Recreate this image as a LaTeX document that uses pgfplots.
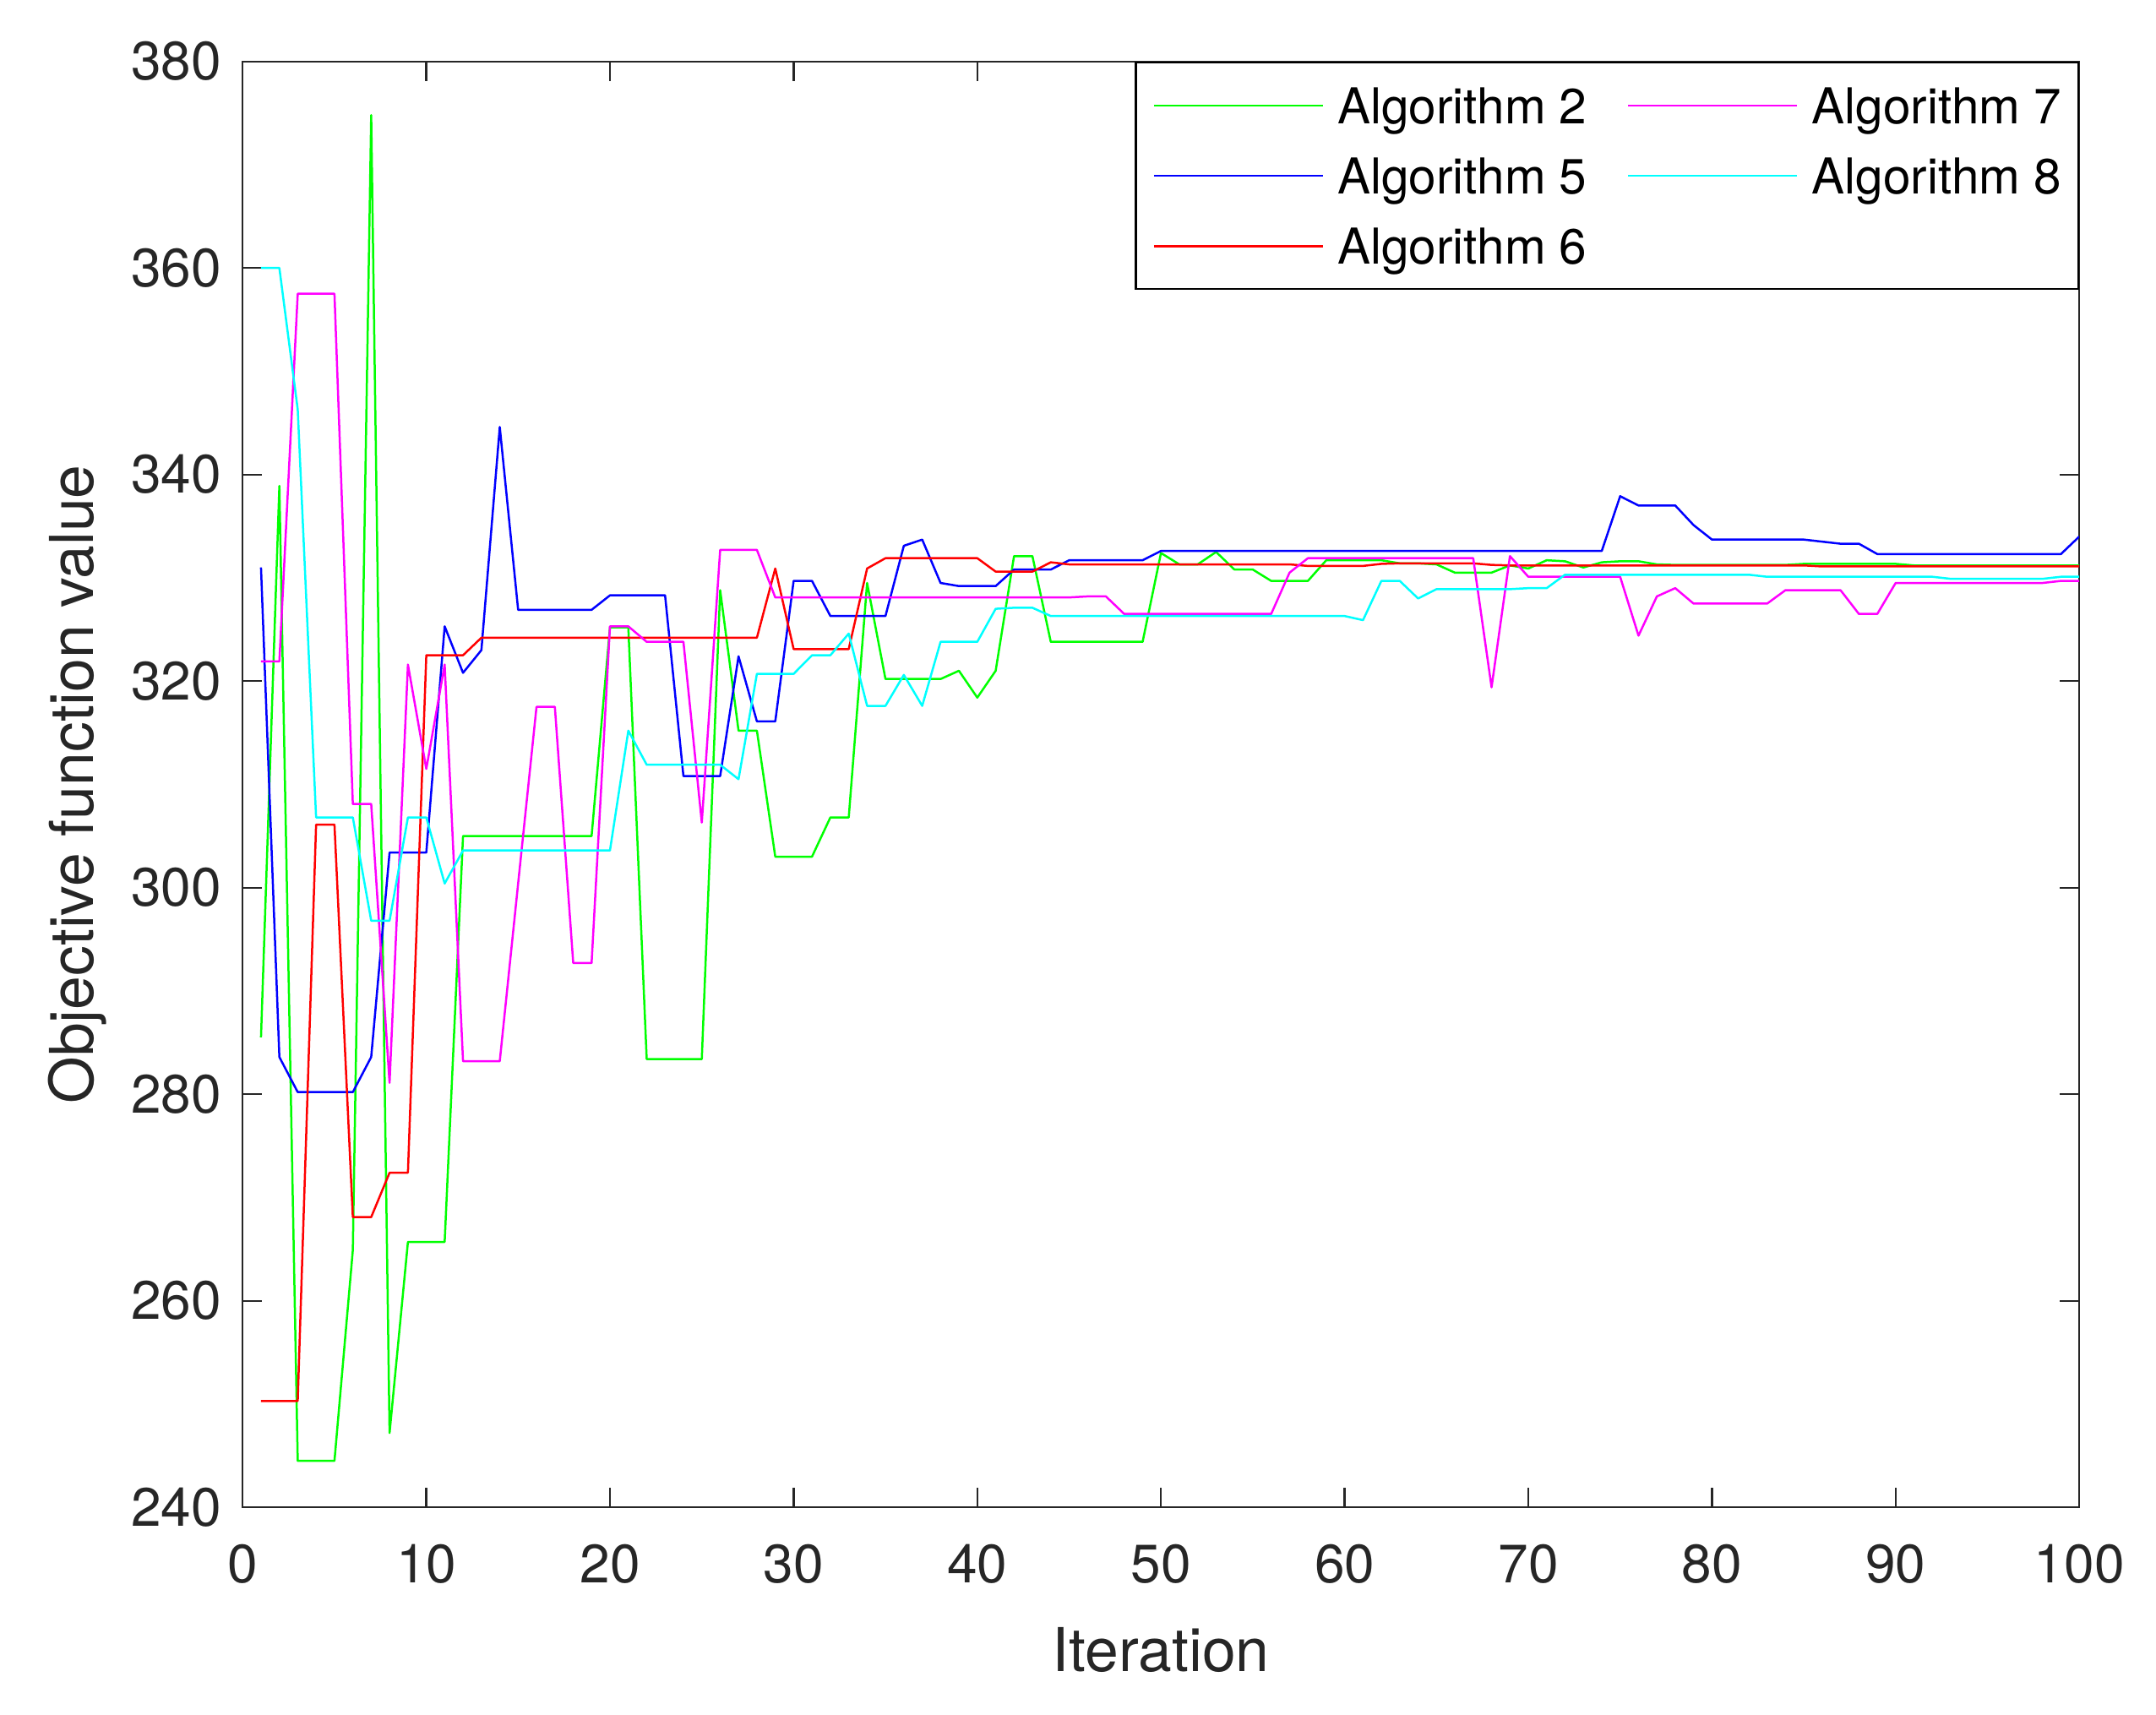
\documentclass[border=0pt]{standalone}
\usepackage{fontspec}
\setmainfont{TeX Gyre Heros}
\usepackage{pgfplots}
\pgfplotsset{compat=1.18}
\definecolor{axgray}{rgb}{0.15,0.15,0.15}
\definecolor{cG}{rgb}{0,1,0}
\definecolor{cB}{rgb}{0,0,1}
\definecolor{cR}{rgb}{1,0,0}
\definecolor{cM}{rgb}{1,0,1}
\definecolor{cC}{rgb}{0,1,1}
\begin{document}
\begin{tikzpicture}
\begin{axis}[
 name=ax,
 scale only axis,
 width=434.8pt, height=342.3pt,
 xmin=0, xmax=100, ymin=240, ymax=380,
 xtick={0,10,...,100}, ytick={240,260,...,380},
 tick align=inside,
 major tick length=4.6pt,
 axis line style={axgray, line width=0.45pt},
 every tick/.style={axgray, line width=0.45pt},
 tick label style={font=\fontsize{12.8}{15}\selectfont, color=axgray},
 /pgf/number format/assume math mode=true,
 /pgf/number format/set thousands separator={},
 xticklabel shift=5.2pt,
 yticklabel shift=1.5pt,
 every axis x label/.style={at={(axis description cs:0.5,-0.1134)},anchor=base,font=\fontsize{14.3}{17}\selectfont, color=axgray},
 every axis y label/.style={at={(axis description cs:-0.0814,0.5)},rotate=90,anchor=base,font=\fontsize{14.3}{17}\selectfont, color=axgray},
 xlabel={Iteration},
 ylabel={Objective function value},
 legend columns=2,
 legend cell align=left,
 legend style={at={(1,1)}, anchor=north east, draw=black, line width=0.45pt, fill=white,
   inner xsep=4pt, inner ysep=5.9pt, row sep=8.05pt,
   nodes={inner sep=0pt, text height=8.6pt, text depth=0pt, font=\fontsize{11.7}{14}\selectfont},
   /tikz/every odd column/.append style={column sep=3.2pt},
   /tikz/every even column/.append style={column sep=9.5pt}},
 legend image code/.code={\draw[#1] (0pt,0pt) -- (40pt,0pt);},
 every axis plot/.append style={line width=0.5pt, line join=round},
]
% Algorithm 2
\addplot[color=cG, forget plot] coordinates {
(1,285.5)(2,338.9)(3,244.5)(4,244.5)(5,244.5)(6,264.9)(7,374.8)(8,247.2)(9,265.7)(10,265.7)
(11,265.7)(12,305.0)(13,305.0)(14,305.0)(15,305.0)(16,305.0)(17,305.0)(18,305.0)(19,305.0)(20,325.2)
(21,325.2)(22,283.4)(23,283.4)(24,283.4)(25,283.4)(26,328.8)(27,315.2)(28,315.2)(29,303.0)(30,303.0)
(31,303.0)(32,306.8)(33,306.8)(34,329.5)(35,320.2)(36,320.2)(37,320.2)(38,320.2)(39,321.0)(40,318.4)
(41,321.0)(42,332.1)(43,332.1)(44,323.8)(45,323.8)(46,323.8)(47,323.8)(48,323.8)(49,323.8)(50,332.4)
(51,331.3)(52,331.3)(53,332.5)(54,330.8)(55,330.8)(56,329.7)(57,329.7)(58,329.7)(59,331.7)(60,331.7)
(61,331.7)(62,331.7)(63,331.4)(64,331.4)(65,331.3)(66,330.5)(67,330.5)(68,330.5)(69,331.2)(70,330.9)
(71,331.7)(72,331.6)(73,331.0)(74,331.5)(75,331.6)(76,331.6)(77,331.3)(78,331.25)(79,331.25)(80,331.25)
(81,331.25)(82,331.25)(83,331.25)(84,331.25)(85,331.35)(86,331.35)(87,331.35)(88,331.35)(89,331.35)(90,331.35)
(91,331.2)(92,331.2)(93,331.2)(94,331.2)(95,331.2)(96,331.2)(97,331.2)(98,331.2)(99,331.2)(100,331.2)
};
% Algorithm 5
\addplot[color=cB, forget plot] coordinates {
(1,331.0)(2,283.6)(3,280.2)(4,280.2)(5,280.2)(6,280.2)(7,283.6)(8,303.4)(9,303.4)(10,303.4)
(11,325.3)(12,320.8)(13,323.0)(14,344.6)(15,326.9)(16,326.9)(17,326.9)(18,326.9)(19,326.9)(20,328.3)
(21,328.3)(22,328.3)(23,328.3)(24,310.8)(25,310.8)(26,310.8)(27,322.4)(28,316.1)(29,316.1)(30,329.7)
(31,329.7)(32,326.3)(33,326.3)(34,326.3)(35,326.3)(36,333.1)(37,333.7)(38,329.5)(39,329.2)(40,329.2)
(41,329.2)(42,330.8)(43,330.8)(44,330.8)(45,331.7)(46,331.7)(47,331.7)(48,331.7)(49,331.7)(50,332.6)
(51,332.6)(52,332.6)(53,332.6)(54,332.6)(55,332.6)(56,332.6)(57,332.6)(58,332.6)(59,332.6)(60,332.6)
(61,332.6)(62,332.6)(63,332.6)(64,332.6)(65,332.6)(66,332.6)(67,332.6)(68,332.6)(69,332.6)(70,332.6)
(71,332.6)(72,332.6)(73,332.6)(74,332.6)(75,337.9)(76,337.0)(77,337.0)(78,337.0)(79,335.1)(80,333.7)
(81,333.7)(82,333.7)(83,333.7)(84,333.7)(85,333.7)(86,333.5)(87,333.3)(88,333.3)(89,332.3)(90,332.3)
(91,332.3)(92,332.3)(93,332.3)(94,332.3)(95,332.3)(96,332.3)(97,332.3)(98,332.3)(99,332.3)(100,334.0)
};
% Algorithm 6
\addplot[color=cR, forget plot] coordinates {
(1,250.3)(2,250.3)(3,250.3)(4,306.1)(5,306.1)(6,268.1)(7,268.1)(8,272.4)(9,272.4)(10,322.5)
(11,322.5)(12,322.5)(13,324.2)(14,324.2)(15,324.2)(16,324.2)(17,324.2)(18,324.2)(19,324.2)(20,324.2)
(21,324.2)(22,324.2)(23,324.2)(24,324.2)(25,324.2)(26,324.2)(27,324.2)(28,324.2)(29,330.9)(30,323.1)
(31,323.1)(32,323.1)(33,323.1)(34,330.9)(35,331.9)(36,331.9)(37,331.9)(38,331.9)(39,331.9)(40,331.9)
(41,330.6)(42,330.6)(43,330.6)(44,331.5)(45,331.3)(46,331.3)(47,331.3)(48,331.3)(49,331.3)(50,331.3)
(51,331.3)(52,331.3)(53,331.3)(54,331.3)(55,331.3)(56,331.3)(57,331.3)(58,331.15)(59,331.15)(60,331.15)
(61,331.15)(62,331.35)(63,331.4)(64,331.4)(65,331.4)(66,331.4)(67,331.4)(68,331.25)(69,331.2)(70,331.2)
(71,331.2)(72,331.2)(73,331.2)(74,331.2)(75,331.2)(76,331.2)(77,331.2)(78,331.2)(79,331.2)(80,331.2)
(81,331.2)(82,331.2)(83,331.2)(84,331.2)(85,331.2)(86,331.1)(87,331.1)(88,331.1)(89,331.1)(90,331.1)
(91,331.1)(92,331.1)(93,331.1)(94,331.1)(95,331.1)(96,331.1)(97,331.1)(98,331.1)(99,331.1)(100,331.1)
};
% Algorithm 7
\addplot[color=cM, forget plot] coordinates {
(1,321.9)(2,321.9)(3,357.5)(4,357.5)(5,357.5)(6,308.1)(7,308.1)(8,281.1)(9,321.6)(10,311.5)
(11,321.6)(12,283.2)(13,283.2)(14,283.2)(15,300.4)(16,317.5)(17,317.5)(18,292.7)(19,292.7)(20,325.3)
(21,325.3)(22,323.8)(23,323.8)(24,323.8)(25,306.3)(26,332.7)(27,332.7)(28,332.7)(29,328.1)(30,328.1)
(31,328.1)(32,328.1)(33,328.1)(34,328.1)(35,328.1)(36,328.1)(37,328.1)(38,328.1)(39,328.1)(40,328.1)
(41,328.1)(42,328.1)(43,328.1)(44,328.1)(45,328.1)(46,328.2)(47,328.2)(48,326.5)(49,326.5)(50,326.5)
(51,326.5)(52,326.5)(53,326.5)(54,326.5)(55,326.5)(56,326.5)(57,330.5)(58,331.9)(59,331.9)(60,331.9)
(61,331.9)(62,331.9)(63,331.9)(64,331.9)(65,331.9)(66,331.9)(67,331.9)(68,319.4)(69,332.1)(70,330.1)
(71,330.1)(72,330.1)(73,330.1)(74,330.1)(75,330.1)(76,324.4)(77,328.2)(78,329.0)(79,327.5)(80,327.5)
(81,327.5)(82,327.5)(83,327.5)(84,328.8)(85,328.8)(86,328.8)(87,328.8)(88,326.5)(89,326.5)(90,329.5)
(91,329.5)(92,329.5)(93,329.5)(94,329.5)(95,329.5)(96,329.5)(97,329.5)(98,329.5)(99,329.7)(100,329.7)
};
% Algorithm 8
\addplot[color=cC, forget plot] coordinates {
(1,360.0)(2,360.0)(3,346.3)(4,306.8)(5,306.8)(6,306.8)(7,296.8)(8,296.8)(9,306.8)(10,306.8)
(11,300.4)(12,303.6)(13,303.6)(14,303.6)(15,303.6)(16,303.6)(17,303.6)(18,303.6)(19,303.6)(20,303.6)
(21,315.2)(22,311.9)(23,311.9)(24,311.9)(25,311.9)(26,311.9)(27,310.5)(28,320.7)(29,320.7)(30,320.7)
(31,322.5)(32,322.5)(33,324.6)(34,317.6)(35,317.6)(36,320.6)(37,317.6)(38,323.8)(39,323.8)(40,323.8)
(41,327.0)(42,327.1)(43,327.1)(44,326.3)(45,326.3)(46,326.3)(47,326.3)(48,326.3)(49,326.3)(50,326.3)
(51,326.3)(52,326.3)(53,326.3)(54,326.3)(55,326.3)(56,326.3)(57,326.3)(58,326.3)(59,326.3)(60,326.3)
(61,325.9)(62,329.7)(63,329.7)(64,328.0)(65,328.9)(66,328.9)(67,328.9)(68,328.9)(69,328.9)(70,329.0)
(71,329.0)(72,330.3)(73,330.3)(74,330.3)(75,330.3)(76,330.3)(77,330.3)(78,330.3)(79,330.3)(80,330.3)
(81,330.3)(82,330.3)(83,330.1)(84,330.1)(85,330.1)(86,330.1)(87,330.1)(88,330.1)(89,330.1)(90,330.1)
(91,330.1)(92,330.1)(93,329.9)(94,329.9)(95,329.9)(96,329.9)(97,329.9)(98,329.9)(99,330.1)(100,330.1)
};
\addlegendimage{color=cG, line width=0.5pt}
\addlegendentry{Algorithm 2}
\addlegendimage{color=cM, line width=0.5pt}
\addlegendentry{Algorithm 7}
\addlegendimage{color=cB, line width=0.5pt}
\addlegendentry{Algorithm 5}
\addlegendimage{color=cC, line width=0.5pt}
\addlegendentry{Algorithm 8}
\addlegendimage{color=cR, line width=0.5pt}
\addlegendentry{Algorithm 6}
\end{axis}
\pgfresetboundingbox
\path[use as bounding box] ([xshift=-57.44pt,yshift=-49.16pt]ax.south west) rectangle ([xshift=18.16pt,yshift=14.54pt]ax.north east);
\end{tikzpicture}
\end{document}
